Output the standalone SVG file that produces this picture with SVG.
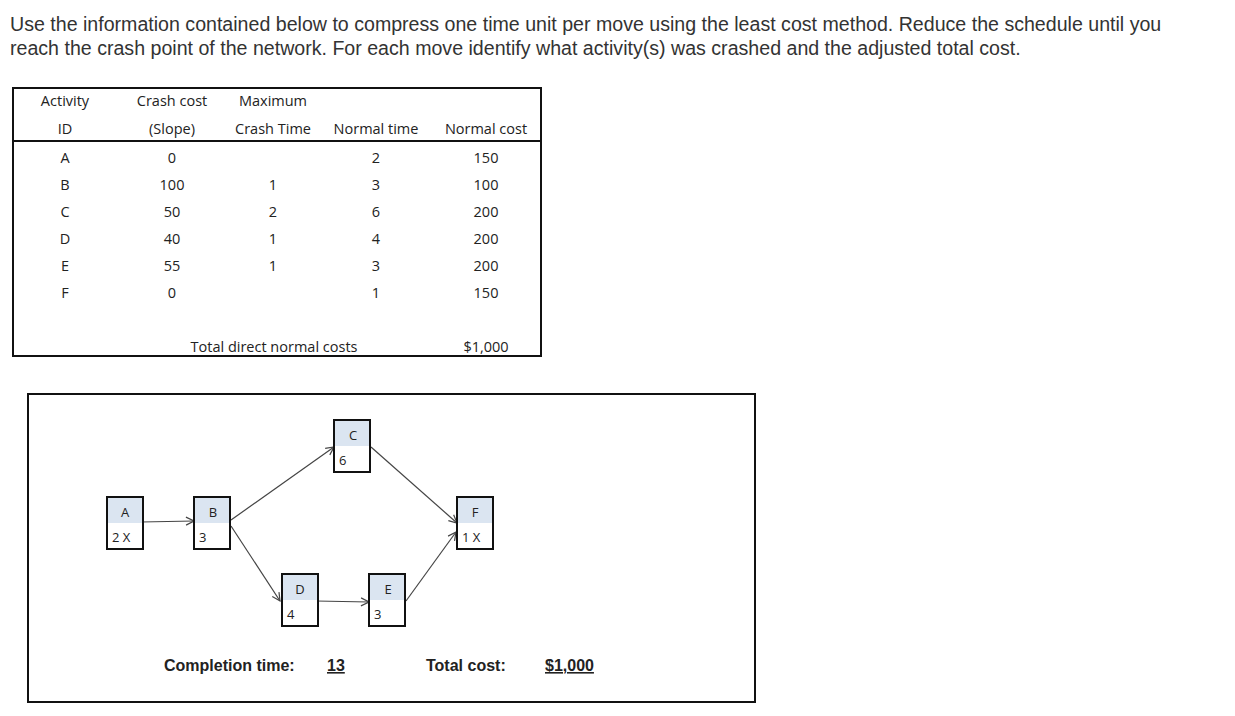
<svg xmlns="http://www.w3.org/2000/svg" width="1235" height="716" viewBox="0 0 1235 716">
<style>
.t{font-family:"Open Sans","Liberation Sans",sans-serif;font-size:14.5px;fill:#222;text-anchor:middle}
.h{font-family:"Liberation Sans",Arial,sans-serif;font-size:19.6px;fill:#333}
.nb{fill:#fff;stroke:#111;stroke-width:2}
.nh{fill:#dbe5f1}
.nl{font-family:"Open Sans","Liberation Sans",sans-serif;font-size:13px;fill:#222}
.b{font-family:"Liberation Sans",Arial,sans-serif;font-size:16px;font-weight:bold;fill:#222}
.c{stroke:#444;stroke-width:1.2;fill:none;marker-end:url(#ar)}
</style>
<defs><marker id="ar" markerWidth="10" markerHeight="10" refX="9" refY="5" orient="auto" markerUnits="userSpaceOnUse"><path d="M1,1 L9,5 L1,9" fill="none" stroke="#444" stroke-width="1.2"/></marker></defs>
<rect width="1235" height="716" fill="#fff"/>
<text class="h" x="10" y="31">Use the information contained below to compress one time unit per move using the least cost method. Reduce the schedule until you</text>
<text class="h" x="10" y="55">reach the crash point of the network. For each move identify what activity(s) was crashed and the adjusted total cost.</text>
<g id="table" stroke="#111" stroke-width="2" fill="none">
<rect x="13" y="88" width="528" height="268"/>
<line x1="13" y1="141" x2="541" y2="141"/>
</g>
<g id="tabletext">
<text class="t" x="65" y="106">Activity</text><text class="t" x="172" y="106">Crash cost</text><text class="t" x="273" y="106">Maximum</text>
<text class="t" x="65" y="134">ID</text><text class="t" x="172" y="134">(Slope)</text><text class="t" x="273" y="134">Crash Time</text><text class="t" x="376" y="134">Normal time</text><text class="t" x="486" y="134">Normal cost</text>
<text class="t" x="65" y="163">A</text><text class="t" x="172" y="163">0</text><text class="t" x="376" y="163">2</text><text class="t" x="486" y="163">150</text>
<text class="t" x="65" y="190">B</text><text class="t" x="172" y="190">100</text><text class="t" x="273" y="190">1</text><text class="t" x="376" y="190">3</text><text class="t" x="486" y="190">100</text>
<text class="t" x="65" y="217">C</text><text class="t" x="172" y="217">50</text><text class="t" x="273" y="217">2</text><text class="t" x="376" y="217">6</text><text class="t" x="486" y="217">200</text>
<text class="t" x="65" y="244">D</text><text class="t" x="172" y="244">40</text><text class="t" x="273" y="244">1</text><text class="t" x="376" y="244">4</text><text class="t" x="486" y="244">200</text>
<text class="t" x="65" y="271">E</text><text class="t" x="172" y="271">55</text><text class="t" x="273" y="271">1</text><text class="t" x="376" y="271">3</text><text class="t" x="486" y="271">200</text>
<text class="t" x="65" y="298">F</text><text class="t" x="172" y="298">0</text><text class="t" x="376" y="298">1</text><text class="t" x="486" y="298">150</text>
<text class="t" x="274" y="352">Total direct normal costs</text><text class="t" x="486" y="352">$1,000</text>
</g>
<rect x="28" y="394" width="727" height="308" fill="none" stroke="#111" stroke-width="2"/>
<g id="connectors">
<line class="c" x1="141" y1="522" x2="194" y2="521"/>
<line class="c" x1="231" y1="520" x2="334" y2="447"/>
<line class="c" x1="231" y1="526" x2="280" y2="601"/>
<line class="c" x1="316" y1="601" x2="369" y2="602"/>
<line class="c" x1="371" y1="447" x2="457" y2="523"/>
<line class="c" x1="406" y1="601" x2="456" y2="532"/>
</g>
<g id="A"><rect class="nb" x="107" y="497" width="36" height="52"/><rect class="nh" x="108" y="498" width="34" height="25"/><text class="nl" x="125" y="517" text-anchor="middle">A</text><text class="nl" x="112" y="542">2 X</text></g>
<g id="B"><rect class="nb" x="194" y="497" width="36" height="52"/><rect class="nh" x="195" y="498" width="34" height="25"/><text class="nl" x="213" y="517" text-anchor="middle">B</text><text class="nl" x="199" y="542">3</text></g>
<g id="C"><rect class="nb" x="334" y="420" width="36" height="52"/><rect class="nh" x="335" y="421" width="34" height="25"/><text class="nl" x="353" y="440" text-anchor="middle">C</text><text class="nl" x="339" y="465">6</text></g>
<g id="D"><rect class="nb" x="282" y="574" width="36" height="52"/><rect class="nh" x="283" y="575" width="34" height="25"/><text class="nl" x="300" y="594" text-anchor="middle">D</text><text class="nl" x="287" y="619">4</text></g>
<g id="E"><rect class="nb" x="369" y="574" width="36" height="52"/><rect class="nh" x="370" y="575" width="34" height="25"/><text class="nl" x="388" y="594" text-anchor="middle">E</text><text class="nl" x="374" y="619">3</text></g>
<g id="F"><rect class="nb" x="457" y="497" width="36" height="52"/><rect class="nh" x="458" y="498" width="34" height="25"/><text class="nl" x="475" y="517" text-anchor="middle">F</text><text class="nl" x="462" y="542">1 X</text></g>
<text class="b" x="164" y="671">Completion time:</text>
<text class="b" x="327" y="671" text-decoration="underline">13</text>
<text class="b" x="426" y="671">Total cost:</text>
<text class="b" x="545" y="671" text-decoration="underline">$1,000</text>
</svg>
